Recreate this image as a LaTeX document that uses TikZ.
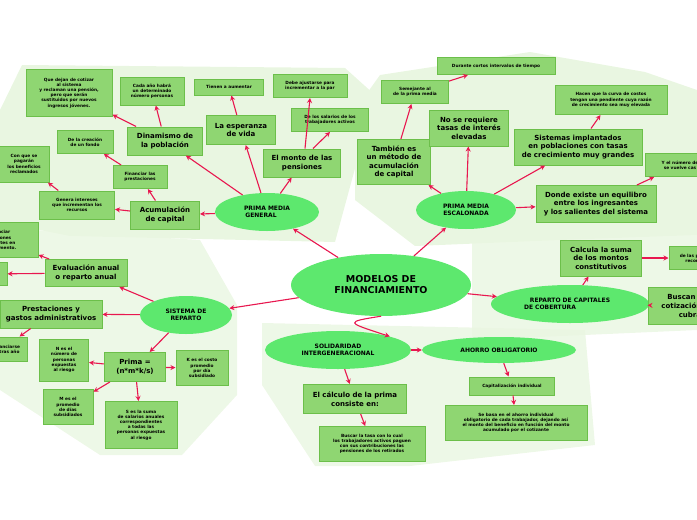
\documentclass[tikz,border=0pt]{standalone}
\usepackage{fontspec}
\setmainfont{DejaVu Sans}
\usetikzlibrary{arrows.meta,shapes.geometric}
\definecolor{bxf}{HTML}{8FD672}
\definecolor{bxd}{HTML}{6CBF4A}
\definecolor{elf}{HTML}{5DE86E}
\definecolor{arr}{HTML}{E8174F}
\definecolor{reg}{HTML}{E9F6E1}
\tikzset{
 bx/.style={rectangle,fill=bxf,draw=bxd,line width=1pt,align=center,inner sep=1pt,font=\bfseries\fontsize{4.3}{5.2}\selectfont},
 bbx/.style={bx,font=\bfseries\fontsize{7}{8.6}\selectfont},
 el/.style={ellipse,fill=elf,draw=none,align=center,inner sep=0pt,font=\bfseries\fontsize{6}{7.5}\selectfont},
 ar/.style={draw=arr,line width=1.1pt,-{Stealth[length=5pt,width=5pt]}},
}
\begin{document}
\begin{tikzpicture}[x=1pt,y=-1pt]
\useasboundingbox (0,0) rectangle (697,520);
% regions
\fill[reg] (22,65)--(345,68)--(375,95)--(335,242)--(70,236)--(0,222)--(0,110)--cycle;
\fill[reg] (380,75)--(530,52)--(645,72)--(697,90)--(697,235)--(560,240)--(415,246)--(355,200)--(355,110)--cycle;
\fill[reg,opacity=.8] (0,228)--(200,240)--(237,305)--(237,395)--(182,455)--(100,455)--(0,390)--cycle;
\fill[reg,opacity=.8] (472,240)--(560,232)--(697,235)--(697,330)--(472,340)--cycle;
\fill[reg,opacity=.8] (262,323)--(585,330)--(595,445)--(410,466)--(315,466)--(262,385)--cycle;
% ellipses
\node[el,minimum width=180pt,minimum height=62pt,font=\bfseries\fontsize{9.5}{11}\selectfont] (main) at (381,285) {MODELOS DE\\FINANCIAMIENTO};
\node[el,minimum width=104pt,minimum height=38pt] (pmg) at (267,212) {PRIMA MEDIA\\GENERAL\hspace*{12pt}};
\node[el,minimum width=100pt,minimum height=38pt] (pme) at (466,210) {PRIMA MEDIA\\ESCALONADA};
\node[el,minimum width=92pt,minimum height=38pt] (sr) at (186,315) {SISTEMA DE\\REPARTO};
\node[el,minimum width=158pt,minimum height=38pt] (rcc) at (570,304) {REPARTO DE CAPITALES\\DE COBERTURA\hspace*{40pt}};
\node[el,minimum width=146pt,minimum height=38pt] (si) at (338,350) {SOLIDARIDAD\\INTERGENERACIONAL};
\node[el,minimum width=154pt,minimum height=26pt] (ao) at (499,350) {AHORRO OBLIGATORIO};
% boxes top-left
\node[bx,minimum width=86pt,minimum height=47pt] (qd) at (69,93) {Que dejan de cotizar\\al sistema\\y reclaman una pensión,\\pero que serán\\sustituidos por nuevos\\ingresos jóvenes.};
\node[bx,minimum width=64pt,minimum height=28pt] (ca) at (152,91) {Cada año habrá\\un determinado\\número personas};
\node[bx,minimum width=69pt,minimum height=16pt] (ta) at (229,87) {Tienen a aumentar};
\node[bx,minimum width=74pt,minimum height=23pt] (da) at (310,86) {Debe ajustarse para\\incrementar a la par};
\node[bbx,minimum width=75pt,minimum height=28pt] (din) at (165,141) {Dinamismo de\\la población};
\node[bbx,minimum width=69pt,minimum height=29pt] (esp) at (241,130) {La esperanza\\de vida};
\node[bbx,minimum width=77pt,minimum height=28pt] (mon) at (302,163) {El monto de las\\pensiones};
\node[bx,minimum width=77pt,minimum height=23pt] (sal) at (330,120) {De los salarios de los\\trabajadores activos};
\node[bx,minimum width=56pt,minimum height=23pt] (cre) at (85,142) {De la creación\\de un fondo};
\node[bx,minimum width=51pt,minimum height=36pt] (cq) at (24,164) {Con que se\\pagarán\\los beneficios\\reclamados};
\node[bx,minimum width=54pt,minimum height=23pt] (fp) at (140,177) {Financiar las\\prestaciones};
\node[bx,minimum width=75pt,minimum height=28pt] (gi) at (77,205) {Genera intereses\\que incrementan los\\recursos};
\node[bbx,minimum width=69pt,minimum height=28pt] (acu) at (165,215) {Acumulación\\de capital};
% left bottom
\node[bx,minimum width=78pt,minimum height=35pt] (fpe) at (-1,240) {Financiar\\pensiones\\existentes en\\ese momento.};
\node[bx,minimum width=40pt,minimum height=23pt] (sb1) at (-13,274) {};
\node[bbx,minimum width=82pt,minimum height=27pt] (ev) at (86,273) {Evaluación anual\\o reparto anual};
\node[bbx,minimum width=102pt,minimum height=28pt] (pre) at (51,314) {Prestaciones y\\gastos administrativos};
\node[bx,minimum width=50pt,minimum height=24pt] (sb2) at (2,349) {\hspace*{8pt}Financiarse\\\hspace*{12pt}otras año};
\node[bx,minimum width=49pt,minimum height=42pt] (nn) at (64,360) {N es el\\número de\\personas\\expuestas\\al riesgo};
\node[bbx,minimum width=61pt,minimum height=29pt] (pr) at (135,367) {Prima =\\(n*m*k/s)};
\node[bx,minimum width=52pt,minimum height=35pt] (kk) at (202,368) {K es el costo\\promedio\\por día\\subsidiado};
\node[bx,minimum width=50pt,minimum height=35pt] (mm) at (68,407) {M es el\\promedio\\de días\\subsidiados};
\node[bx,minimum width=72pt,minimum height=47pt] (ss) at (141,425) {S es la suma\\de salarios anuales\\correspondientes\\a todas las\\personas expuestas\\al riesgo};
% right side
\node[bbx,minimum width=81pt,minimum height=36pt] (cal) at (601,258) {Calcula la suma\\de los montos\\constitutivos};
\node[bx,minimum width=62pt,minimum height=23pt] (dl) at (700,258) {de las pensiones\\reconocidas};
\node[bbx,minimum width=84pt,minimum height=37pt] (bus) at (690,306) {Buscan una\\cotización que\\cubra};
\node[bbx,minimum width=103pt,minimum height=29pt] (ec) at (355,399) {El cálculo de la prima\\consiste en:};
\node[bx,minimum width=106pt,minimum height=35pt] (bt) at (372,444) {Buscar la tasa con lo cual\\los trabajadores activos paguen\\con sus contribuciones las\\pensiones de los retirados};
\node[bx,minimum width=85pt,minimum height=18pt] (cap) at (512,386) {Capitalización individual};
\node[bx,minimum width=142pt,minimum height=35pt] (sba) at (516,423) {Se basa en el ahorro individual\\obligatorio de cada trabajador, dejando así\\el monto del beneficio en función del monto\\acumulado por el cotizante};
\node[bx,minimum width=118pt,minimum height=17pt] (dur) at (496,66) {Durante cortos intervalos de tiempo};
\node[bx,minimum width=67pt,minimum height=23pt] (sem) at (415,92) {Semejante al\\de la prima media};
\node[bbx,minimum width=73pt,minimum height=45pt] (tam) at (394,162) {También es\\un método de\\acumulación\\de capital};
\node[bbx,minimum width=79pt,minimum height=36pt] (nsr) at (469,128) {No se requiere\\tasas de interés\\elevadas};
\node[bx,minimum width=112pt,minimum height=29pt] (hac) at (611,100) {Hacen que la curva de costos\\tengan una pendiente cuya razón\\de crecimiento sea muy elevada};
\node[bbx,minimum width=128pt,minimum height=36pt] (sis) at (578,147) {Sistemas implantados\\en poblaciones con tasas\\de crecimiento muy grandes};
\node[bx,minimum width=70pt,minimum height=23pt] (yel) at (680,165) {Y el número de\\se vuelve cas};
\node[bbx,minimum width=120pt,minimum height=37pt] (don) at (596,204) {Donde existe un equilibro\\entre los ingresantes\\y los salientes del sistema};
% arrows
\draw[ar] (main) -- (pmg);
\draw[ar] (main) -- (pme);
\draw[ar] (main) -- (sr);
\draw[ar] (main) -- (rcc);
\draw[ar] (main.south) .. controls (345,322) .. (si.north east);
\draw[ar] (si) -- (ao);
\draw[ar] (si) -- (ec);
\draw[ar] (ec) -- (bt);
\draw[ar] (ao) -- (cap);
\draw[ar] (cap) -- (sba);
\draw[ar] (rcc) -- (cal);
\draw[ar] (cal) -- (dl);
\draw[ar] (rcc) -- (bus);
\draw[ar] (pmg) -- (acu);
\draw[ar] (pmg) -- (din);
\draw[ar] (pmg) -- (esp);
\draw[ar] (pmg) -- (mon);
\draw[ar] (mon.north) ++(3,0) coordinate (m1) -- (da.south);
\draw[ar] (mon.north) ++(11,0) coordinate (m2) -- (sal.south);
\draw[ar] (esp) -- (ta);
\draw[ar] (din) -- (ca);
\draw[ar] (din) -- (qd);
\draw[ar] (acu) -- (gi);
\draw[ar] (acu) -- (fp);
\draw[ar] (fp) -- (cre);
\draw[ar] (gi) -- (cq);
\draw[ar] (pme) -- (tam);
\draw[ar] (pme) -- (nsr);
\draw[ar] (pme) -- (sis);
\draw[ar] (pme) -- (don);
\draw[ar] (tam) -- (sem);
\draw[ar] (sem) -- (dur);
\draw[ar] (sis) -- (hac);
\draw[ar] (don) -- (yel);
\draw[ar] (sr) -- (ev);
\draw[ar] (sr) -- (pre);
\draw[ar] (sr) -- (pr);
\draw[ar] (ev) -- (fpe);
\draw[ar] (ev) -- (sb1);
\draw[ar] (pre) -- (sb2);
\draw[ar] (pr) -- (nn);
\draw[ar] (pr) -- (kk);
\draw[ar] (pr) -- (mm);
\draw[ar] (pr) -- (ss);
\end{tikzpicture}
\end{document}
